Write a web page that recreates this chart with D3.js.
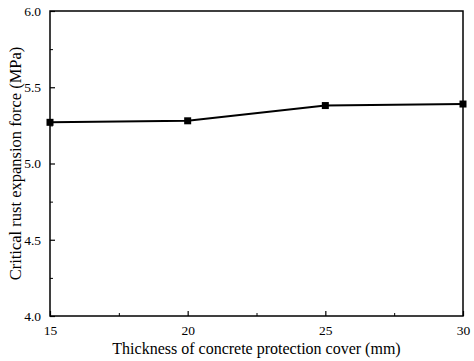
<!DOCTYPE html>
<html>
<head>
<meta charset="utf-8">
<script src="https://cdn.jsdelivr.net/npm/d3@7.9.0/dist/d3.min.js"></script>
<style>
  body { margin: 0; background: #fff; }
  svg text { font-family: "Liberation Serif", "Times New Roman", serif; fill: #000; }
</style>
</head>
<body>
<svg width="474" height="361"></svg>
<script>
const thickness = [15, 20, 25, 30];
const force = [5.27, 5.28, 5.38, 5.39];
const xTicks = [15, 20, 25, 30];
const yTicks = [4.0, 4.5, 5.0, 5.5, 6.0];

const margin = { left: 50, right: 11, top: 11, bottom: 45 };
const width = 474, height = 361;

let svg = d3.select('svg');
let x = d3.scaleLinear().domain([15, 30]).range([margin.left, width - margin.right]);
let y = d3.scaleLinear().domain([4, 6]).range([height - margin.bottom, margin.top]);

// frame
svg.append('rect')
  .attr('x', x(15)).attr('y', y(6))
  .attr('width', x(30) - x(15)).attr('height', y(4) - y(6))
  .attr('fill', 'none').attr('stroke', '#000').attr('stroke-width', 1.5);

// x axis, ticks inward
let xAxis = d3.axisBottom(x).tickValues(xTicks).tickFormat(d3.format('d')).tickSizeInner(-5).tickSizeOuter(0).tickPadding(9);
let gx = svg.append('g').attr('transform', `translate(0,${y(4)})`).call(xAxis);
gx.select('.domain').remove();
gx.selectAll('text').attr('font-size', 13.5);
gx.selectAll('line').attr('stroke-width', 1.2);
let xMinor = d3.axisBottom(x).tickValues([17.5, 22.5, 27.5]).tickFormat('').tickSizeInner(-3).tickSizeOuter(0);
svg.append('g').attr('transform', `translate(0,${y(4)})`).call(xMinor).select('.domain').remove();

// y axis, ticks inward
let yAxis = d3.axisLeft(y).tickValues(yTicks).tickFormat(d3.format('.1f')).tickSizeInner(-5).tickSizeOuter(0).tickPadding(9);
let gy = svg.append('g').attr('transform', `translate(${x(15)},0)`).call(yAxis);
gy.select('.domain').remove();
gy.selectAll('text').attr('font-size', 13.5);
gy.selectAll('line').attr('stroke-width', 1.2);
let yMinor = d3.axisLeft(y).tickValues([4.25, 4.75, 5.25, 5.75]).tickFormat('').tickSizeInner(-3).tickSizeOuter(0);
svg.append('g').attr('transform', `translate(${x(15)},0)`).call(yMinor).select('.domain').remove();

// series
let data = thickness.map((t, i) => ({ t, f: force[i] }));
let line = d3.line().x(d => x(d.t)).y(d => y(d.f));
svg.append('path')
  .datum(data)
  .attr('d', line)
  .attr('fill', 'none')
  .attr('stroke', '#000')
  .attr('stroke-width', 2);

svg.selectAll('.marker')
  .data(data)
  .join('rect')
  .attr('class', 'marker')
  .attr('x', d => x(d.t) - 3.5)
  .attr('y', d => y(d.f) - 3.5)
  .attr('width', 7)
  .attr('height', 7)
  .attr('fill', '#000');

// labels
svg.append('text')
  .attr('x', (x(15) + x(30)) / 2)
  .attr('y', 354)
  .attr('text-anchor', 'middle')
  .attr('font-size', 16)
  .text('Thickness of concrete protection cover (mm)');

svg.append('text')
  .attr('transform', `translate(21,${(y(4) + y(6)) / 2}) rotate(-90)`)
  .attr('text-anchor', 'middle')
  .attr('font-size', 16.5)
  .text('Critical rust expansion force (MPa)');
</script>
</body>
</html>
